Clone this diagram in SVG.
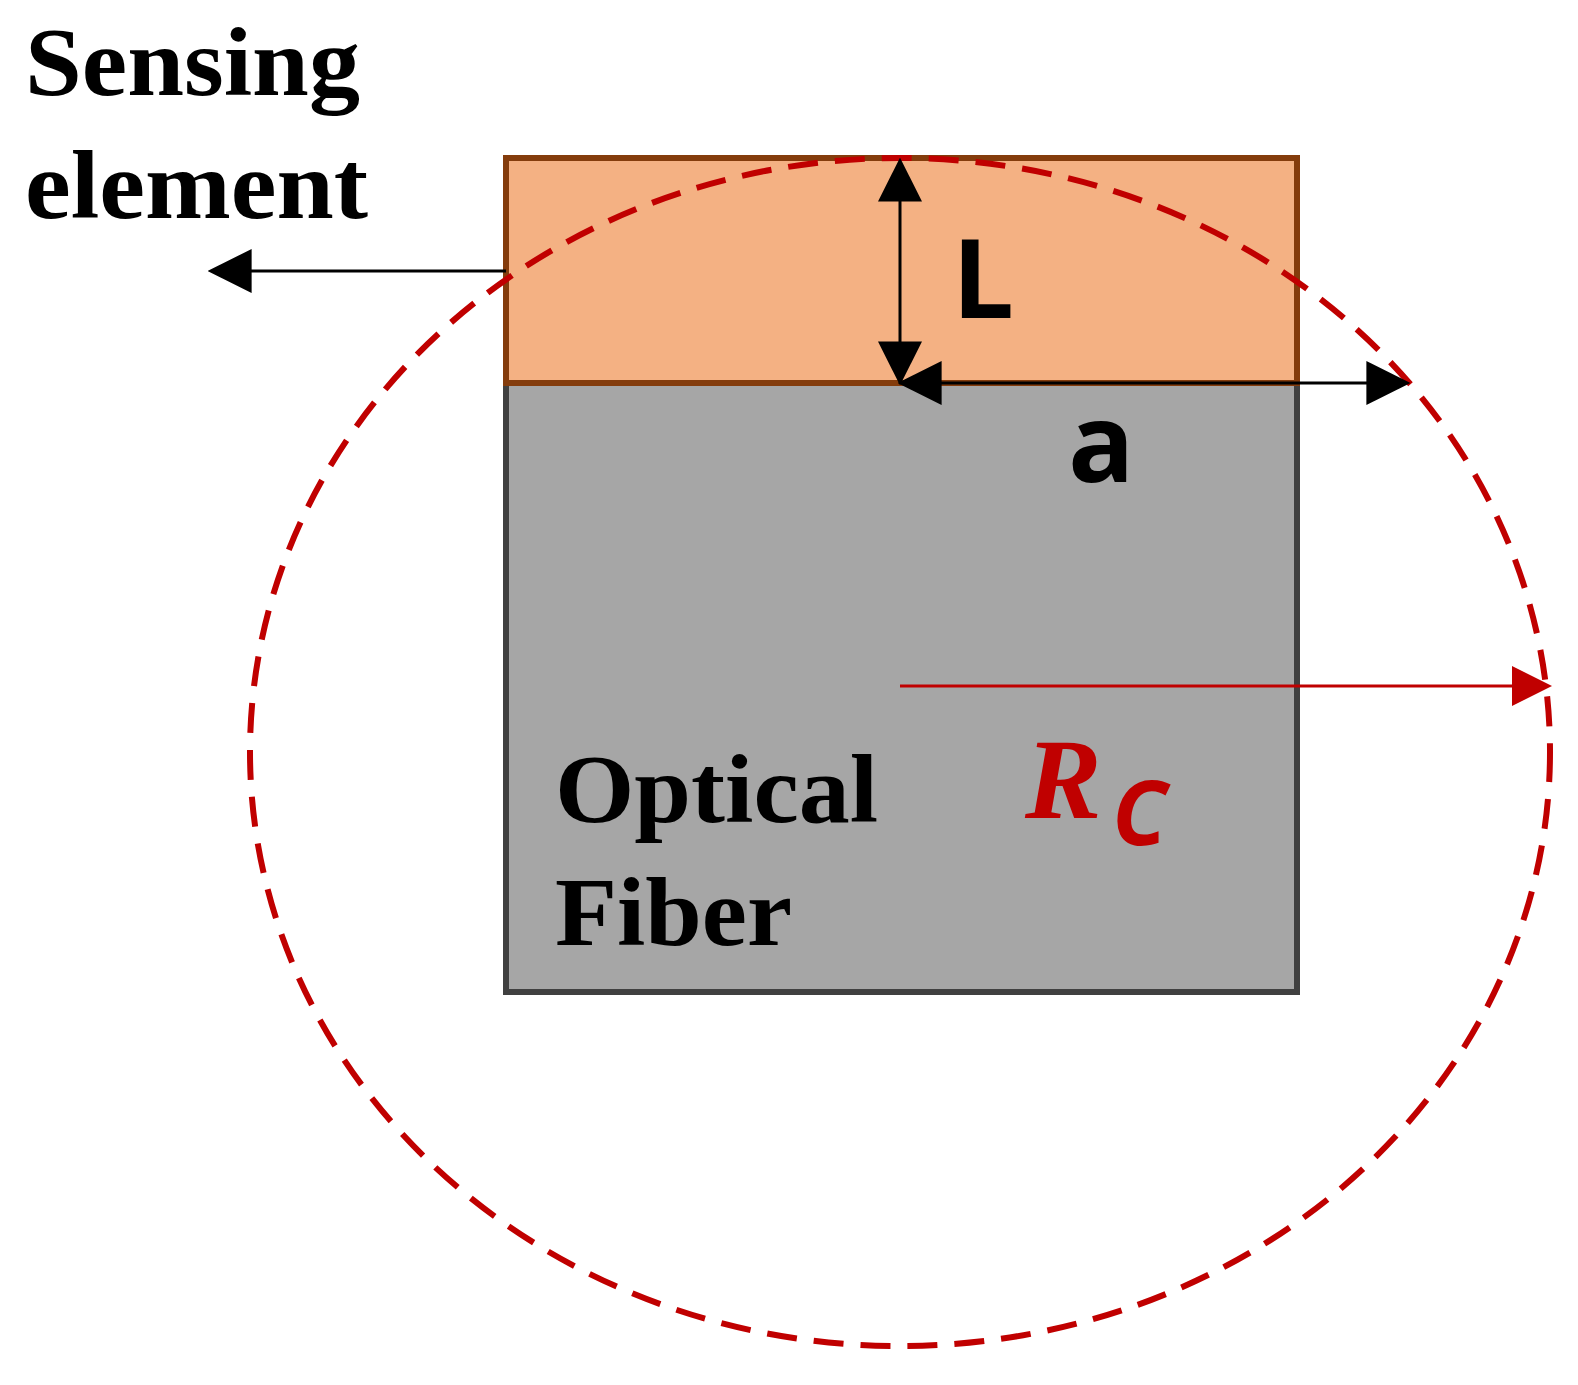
<svg xmlns="http://www.w3.org/2000/svg" width="1578" height="1385" viewBox="0 0 1578 1385">
<style>
.lbl{font-family:"Liberation Serif",serif;font-weight:bold;font-size:98px;fill:#000}
.sym{font-family:"Open Sans","DejaVu Sans",sans-serif;font-weight:bold;fill:#000}
</style>
<defs>
<marker id="ar" viewBox="0 0 10 10" refX="9" refY="5" markerWidth="44" markerHeight="40" orient="auto" markerUnits="userSpaceOnUse"><path d="M0,0 L10,5 L0,10 Z" fill="#c00000"/></marker>
<marker id="ab" viewBox="0 0 10 10" refX="9" refY="5" markerWidth="44" markerHeight="44" orient="auto-start-reverse" markerUnits="userSpaceOnUse"><path d="M0,0 L10,5 L0,10 Z" fill="#000"/></marker>
</defs>
<g id="fiber"><rect x="506" y="383" width="791" height="609" fill="#a6a6a6" stroke="#404040" stroke-width="6"/></g>
<g id="sensing"><rect x="506" y="158" width="791" height="225" fill="#f4b183" stroke="#843c0c" stroke-width="6"/></g>
<g id="circle"><ellipse cx="900" cy="752" rx="650" ry="594" fill="none" stroke="#c00000" stroke-width="6" stroke-dasharray="30,17"/></g>
<g id="connectors" stroke="#000" stroke-width="3" fill="none">
<line x1="506" y1="271" x2="212" y2="271" marker-end="url(#ab)"/>
<line x1="900" y1="162" x2="900" y2="381" marker-start="url(#ab)" marker-end="url(#ab)"/>
<line x1="902" y1="383" x2="1406" y2="383" marker-start="url(#ab)" marker-end="url(#ab)"/>
<line x1="900" y1="686" x2="1548" y2="686" stroke="#c00000" marker-end="url(#ar)"/>
</g>
<g id="texts">
<text class="lbl" x="25" y="95" textLength="335" lengthAdjust="spacingAndGlyphs">Sensing</text>
<text class="lbl" x="25" y="218" textLength="343" lengthAdjust="spacingAndGlyphs">element</text>
<text class="lbl" x="555" y="822" textLength="323" lengthAdjust="spacingAndGlyphs">Optical</text>
<text class="lbl" x="555" y="945" textLength="237" lengthAdjust="spacingAndGlyphs">Fiber</text>
<text class="sym" x="952" y="318" font-size="110">L</text>
<text class="sym" x="1068" y="482" font-size="110">a</text>
<text x="1025" y="818" font-family="Liberation Serif,serif" font-weight="bold" font-style="italic" font-size="115" fill="#c00000">R</text>
<text x="1112" y="845" font-family="Open Sans,DejaVu Sans,sans-serif" font-weight="bold" font-style="italic" font-size="90" fill="#c00000">C</text>
</g>
</svg>
